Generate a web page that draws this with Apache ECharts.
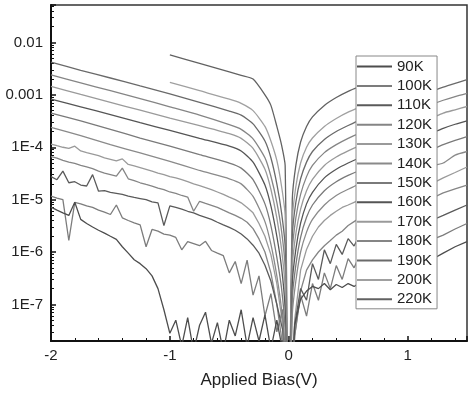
<!DOCTYPE html>
<html><head><meta charset="utf-8">
<script src="https://cdn.jsdelivr.net/npm/echarts@6/dist/echarts.min.js"></script>
<style>html,body{margin:0;padding:0;background:#fff}#c{width:474px;height:395px}</style>
</head><body><div id="c"></div>
<script>
// Temperatures (legend order)
const temperatures = ['90K','100K','110K','120K','130K','140K','150K','160K','170K','180K','190K','200K','220K'];

// Bias grids (V)
const biasCoarse = [-2,-1.75,-1.5,-1.25,-1,-0.75,-0.5,-0.4,-0.3,-0.2,-0.15,-0.1,-0.06,-0.03,0,0.03,0.06,0.1,0.15,0.2,0.3,0.4,0.5,0.6,0.8,1.0,1.2,1.3,1.4,1.5];
const biasFine = [-2,-1.95,-1.9,-1.85,-1.8,-1.75,-1.7,-1.65,-1.6,-1.55,-1.5,-1.45,-1.4,-1.35,-1.3,-1.25,-1.2,-1.15,-1.1,-1.05,-1,-0.95,-0.9,-0.85,-0.8,-0.75,-0.7,-0.65,-0.6,-0.55,-0.5,-0.45,-0.4,-0.35,-0.3,-0.25,-0.2,-0.15,-0.1,-0.05,0,0.05,0.1,0.15,0.2,0.25,0.3,0.35,0.4,0.45,0.5,0.55,0.6,0.8,1.0,1.2,1.3,1.4,1.5];

// Currents (A)
const cur220K = [null,null,null,null,5.8e-3,4.0e-3,2.75e-3,2.35e-3,2.0e-3,1.0e-3,6.3e-4,2.5e-4,1.1e-4,4.5e-5,1e-10,1e-5,4.5e-5,1.26e-4,2.5e-4,3.8e-4,6.3e-4,8.9e-4,1.17e-3,1.45e-3,null,null,null,null,null,null];
const cur200K = [null,null,null,null,1.74e-3,1.2e-3,8.3e-4,6.9e-4,5e-4,2.5e-4,1.32e-4,5.6e-5,1.78e-5,5e-6,1e-10,4e-6,1.78e-5,5e-5,1e-4,1.5e-4,2.5e-4,3.55e-4,4.7e-4,5.75e-4,null,null,null,null,null,null];
const cur190K = [4.2e-3,2.95e-3,2.1e-3,1.48e-3,1.05e-3,7.2e-4,4.9e-4,4.1e-4,2.8e-4,1.32e-4,6.3e-5,2e-5,5.6e-6,1.26e-6,1e-10,2e-6,8.9e-6,2.5e-5,5.2e-5,8.3e-5,1.41e-4,2e-4,2.6e-4,3.3e-4,4.7e-4,7.2e-4,1.15e-3,1.4e-3,1.66e-3,1.95e-3];
const cur180K = [2.4e-3,1.7e-3,1.2e-3,8.5e-4,5.9e-4,4.1e-4,2.7e-4,2.2e-4,1.45e-4,6.3e-5,2.8e-5,8.9e-6,2.5e-6,5e-7,1e-10,1e-6,4.5e-6,1.26e-5,2.75e-5,4.5e-5,7.9e-5,1.12e-4,1.48e-4,1.86e-4,2.7e-4,4.2e-4,6.5e-4,7.9e-4,9.3e-4,1.07e-3];
const cur170K = [1.45e-3,1.02e-3,7.2e-4,5.1e-4,3.6e-4,2.6e-4,1.82e-4,1.48e-4,9.5e-5,3.8e-5,1.58e-5,4.5e-6,1.12e-6,2e-7,1e-10,5e-7,2.24e-6,6.6e-6,1.48e-5,2.45e-5,4.5e-5,6.5e-5,8.5e-5,1.07e-4,1.6e-4,2.4e-4,3.6e-4,4.5e-4,5.2e-4,6e-4];
const cur160K = [8.3e-4,5.9e-4,4.2e-4,2.95e-4,2.1e-4,1.48e-4,1.05e-4,8.5e-5,5.2e-5,1.9e-5,7.6e-6,2e-6,5e-7,7.9e-8,1e-10,2.5e-7,1.12e-6,3.55e-6,8.3e-6,1.38e-5,2.6e-5,3.8e-5,5e-5,6.3e-5,9.1e-5,1.3e-4,1.86e-4,2.3e-4,2.75e-4,3.2e-4];
const cur150K = [4.5e-4,3.2e-4,2.2e-4,1.5e-4,1.05e-4,7.2e-5,5e-5,4e-5,2.4e-5,8.3e-6,3.2e-6,7.9e-7,2e-7,3.2e-8,1e-10,1.26e-7,5.6e-7,1.9e-6,4.6e-6,7.9e-6,1.48e-5,2.2e-5,2.9e-5,3.6e-5,5e-5,6.9e-5,9.1e-5,1.12e-4,1.35e-4,1.6e-4];
const cur140K = [2.4e-4,1.66e-4,1.12e-4,7.8e-5,5.4e-5,3.6e-5,2.5e-5,2e-5,1.15e-5,3.8e-6,1.41e-6,3.5e-7,7.9e-8,1.26e-8,1e-10,6.3e-8,2.8e-7,1e-6,2.4e-6,4.2e-6,7.9e-6,1.2e-5,1.58e-5,2e-5,2.7e-5,3.5e-5,4.4e-5,5e-5,7.1e-5,8.3e-5];
const cur130K = [1.15e-4,1.07e-4,1.0e-4,9.5e-5,1.05e-4,8.5e-5,7.9e-5,7.4e-5,6.9e-5,6.3e-5,5.9e-5,5.5e-5,6.0e-5,4.7e-5,4.4e-5,4.1e-5,3.8e-5,3.5e-5,3.2e-5,3.0e-5,2.75e-5,2.6e-5,2.4e-5,2.2e-5,2.0e-5,1.86e-5,1.7e-5,1.55e-5,1.4e-5,1.26e-5,1.12e-5,1.0e-5,8.7e-6,7.1e-6,5.6e-6,3.5e-6,2e-6,8.9e-7,2.5e-7,4e-8,1e-10,5e-8,4.5e-7,1.12e-6,2e-6,3e-6,4e-6,5e-6,6e-6,7.1e-6,7.9e-6,8.9e-6,1e-5,1.32e-5,1.66e-5,2.0e-5,2.6e-5,3.3e-5,4.2e-5];
const cur120K = [6.6e-5,6.2e-5,5.6e-5,5.2e-5,4.9e-5,4.5e-5,4.2e-5,3.9e-5,3.5e-5,3.2e-5,3.0e-5,2.8e-5,4.0e-5,2.5e-5,2.3e-5,2.1e-5,1.95e-5,1.82e-5,1.66e-5,1.55e-5,1.4e-5,1.32e-5,1.2e-5,1.12e-5,6.0e-6,9.3e-6,8.5e-6,7.8e-6,7.1e-6,6.3e-6,5.6e-6,5.0e-6,4.4e-6,3.7e-6,2.8e-6,1.78e-6,1e-6,4e-7,1e-7,1.6e-8,1e-10,2.5e-8,1.8e-7,4.5e-7,7.1e-7,1.0e-6,1.32e-6,1.66e-6,2.1e-6,2.5e-6,3.2e-6,3.8e-6,4.5e-6,6.0e-6,7.6e-6,1.05e-5,1.35e-5,1.6e-5,1.9e-5];
const cur110K = [2.75e-5,2.4e-5,3.5e-5,2.1e-5,2.2e-5,1.9e-5,1.82e-5,3.0e-5,1.45e-5,1.48e-5,1.38e-5,1.32e-5,1.26e-5,1.17e-5,1.1e-5,1.05e-5,1.0e-5,9.1e-6,8.7e-6,3.2e-6,7.6e-6,7.1e-6,6.6e-6,6.0e-6,5.6e-6,5.0e-6,4.6e-6,4.2e-6,3.7e-6,3.3e-6,2.95e-6,2.6e-6,2.2e-6,1.78e-6,1.35e-6,9.5e-7,5.6e-7,2.8e-7,1.0e-7,3.2e-8,1e-10,4e-8,2e-7,1.2e-7,6e-7,3e-7,1.1e-6,6e-7,1.4e-6,9e-7,1.8e-6,1.3e-6,2.2e-6,2.75e-6,3.3e-6,4.0e-6,5.0e-6,6.3e-6,7.9e-6];
const cur100K = [1.17e-5,1.07e-5,1.0e-5,1.66e-6,8.9e-6,8.3e-6,7.6e-6,7.1e-6,6.3e-6,5.8e-6,5.2e-6,7.9e-6,4.5e-6,4.0e-6,3.6e-6,3.3e-6,1.26e-6,2.7e-6,2.5e-6,2.2e-6,2.1e-6,1.9e-6,1.1e-6,1.58e-6,1.45e-6,1.32e-6,1.6e-6,1.07e-6,9.5e-7,8.5e-7,4e-7,6.6e-7,2.5e-7,7e-7,1.5e-7,3.5e-7,6e-8,1.6e-7,3e-8,8e-8,1e-10,2.5e-8,1.5e-7,6e-8,2.5e-7,1.2e-7,4e-7,2e-7,5.5e-7,3e-7,7.5e-7,5e-7,9e-7,1.17e-6,1.41e-6,1.7e-6,2.1e-6,2.75e-6,3.5e-6];
const cur90K = [7.2e-6,6.3e-6,5.6e-6,5.0e-6,8.9e-6,4.2e-6,3.5e-6,3.0e-6,2.6e-6,2.3e-6,2.0e-6,1.74e-6,1.26e-6,9.5e-7,7.1e-7,6.0e-7,4.8e-7,3.5e-7,2.0e-7,7.9e-8,2.8e-8,5.0e-8,1.6e-8,5.6e-8,1.26e-8,4.0e-8,7.1e-8,1.8e-8,4.5e-8,1.26e-8,5.0e-8,2.5e-8,7.9e-8,1.6e-8,5.6e-8,2.0e-8,6.3e-8,1.4e-8,5.0e-8,1.26e-8,1e-10,4.0e-8,1.26e-7,1.8e-7,2.2e-7,2.0e-7,2.5e-7,1.9e-7,2.4e-7,2.1e-7,2.5e-7,2.2e-7,2.6e-7,3.5e-7,5.0e-7,7.1e-7,9.5e-7,1.26e-6,1.58e-6];

// Y tick labels by decade exponent
const yTickLabels = {'-7':'1E-7','-6':'1E-6','-5':'1E-5','-4':'1E-4','-3':'0.001','-2':'0.01'};

const curveColors = ['#4d4d4d','#7c7c7c','#5a5a5a','#858585','#9a9a9a','#8a8a8a','#7a7a7a','#555555','#9a9a9a','#858585','#6a6a6a','#a0a0a0','#626262'];

const currents = [cur90K,cur100K,cur110K,cur120K,cur130K,cur140K,cur150K,cur160K,cur170K,cur180K,cur190K,cur200K,cur220K];
const fineSet = {'90K':1,'100K':1,'110K':1,'120K':1,'130K':1};

const FONT = 'Liberation Sans, Arial, Helvetica, sans-serif';
const series = temperatures.map((t, k) => {
  const xs = fineSet[t] ? biasFine : biasCoarse;
  return {
    name: t, type: 'line', symbol: 'none', z: 2 + (12 - k) * 0.01,
    smooth: fineSet[t] ? false : 0.2,
    color: curveColors[k],
    lineStyle: {width: 1.3, color: curveColors[k]},
    data: xs.map((x, j) => [x, currents[k][j]])
  };
});

const chart = echarts.init(document.getElementById('c'), null, {renderer: 'canvas'});
chart.setOption({
  animation: false,
  backgroundColor: '#fff',
  textStyle: {fontFamily: FONT},
  grid: {left: 51, right: 7, top: 5, bottom: 54, show: true, borderColor: '#333', borderWidth: 1.5, backgroundColor: 'transparent'},
  legend: {
    orient: 'vertical', left: 356, top: 56,
    icon: 'rect', itemWidth: 35, itemHeight: 2, itemGap: 4.4,
    padding: [3, 5, 2, 1],
    backgroundColor: '#fff', borderColor: '#888', borderWidth: 1,
    textStyle: {fontSize: 15, color: '#222', lineHeight: 15, fontFamily: FONT},
    data: temperatures
  },
  xAxis: {
    type: 'value', min: -2, max: 1.5, interval: 1,
    axisLine: {show: true, onZero: false, lineStyle: {color: '#111', width: 2}},
    axisTick: {show: true, inside: true, length: 5, lineStyle: {color: '#111', width: 1.5}},
    minorTick: {show: true, splitNumber: 5, length: 3, lineStyle: {color: '#111', width: 1}},
    splitLine: {show: false},
    axisLabel: {fontSize: 15, color: '#222', margin: 7, showMaxLabel: false, fontFamily: FONT},
    name: 'Applied Bias(V)', nameLocation: 'middle', nameGap: 31,
    nameTextStyle: {fontSize: 17, color: '#222', fontFamily: FONT}
  },
  yAxis: {
    type: 'log', logBase: 10, min: 2e-8, max: 0.052,
    axisLine: {show: true, onZero: false, lineStyle: {color: '#111', width: 2}},
    axisTick: {show: true, inside: true, length: 5, lineStyle: {color: '#111', width: 1.5}},
    minorTick: {show: true, splitNumber: 9, length: 3, lineStyle: {color: '#111', width: 1}},
    splitLine: {show: false},
    axisLabel: {
      fontSize: 15, color: '#222', margin: 8, showMinLabel: false, showMaxLabel: false, fontFamily: FONT,
      formatter: v => yTickLabels[String(Math.round(Math.log10(v)))] || ''
    }
  },
  series: series
});
</script>
</body></html>
